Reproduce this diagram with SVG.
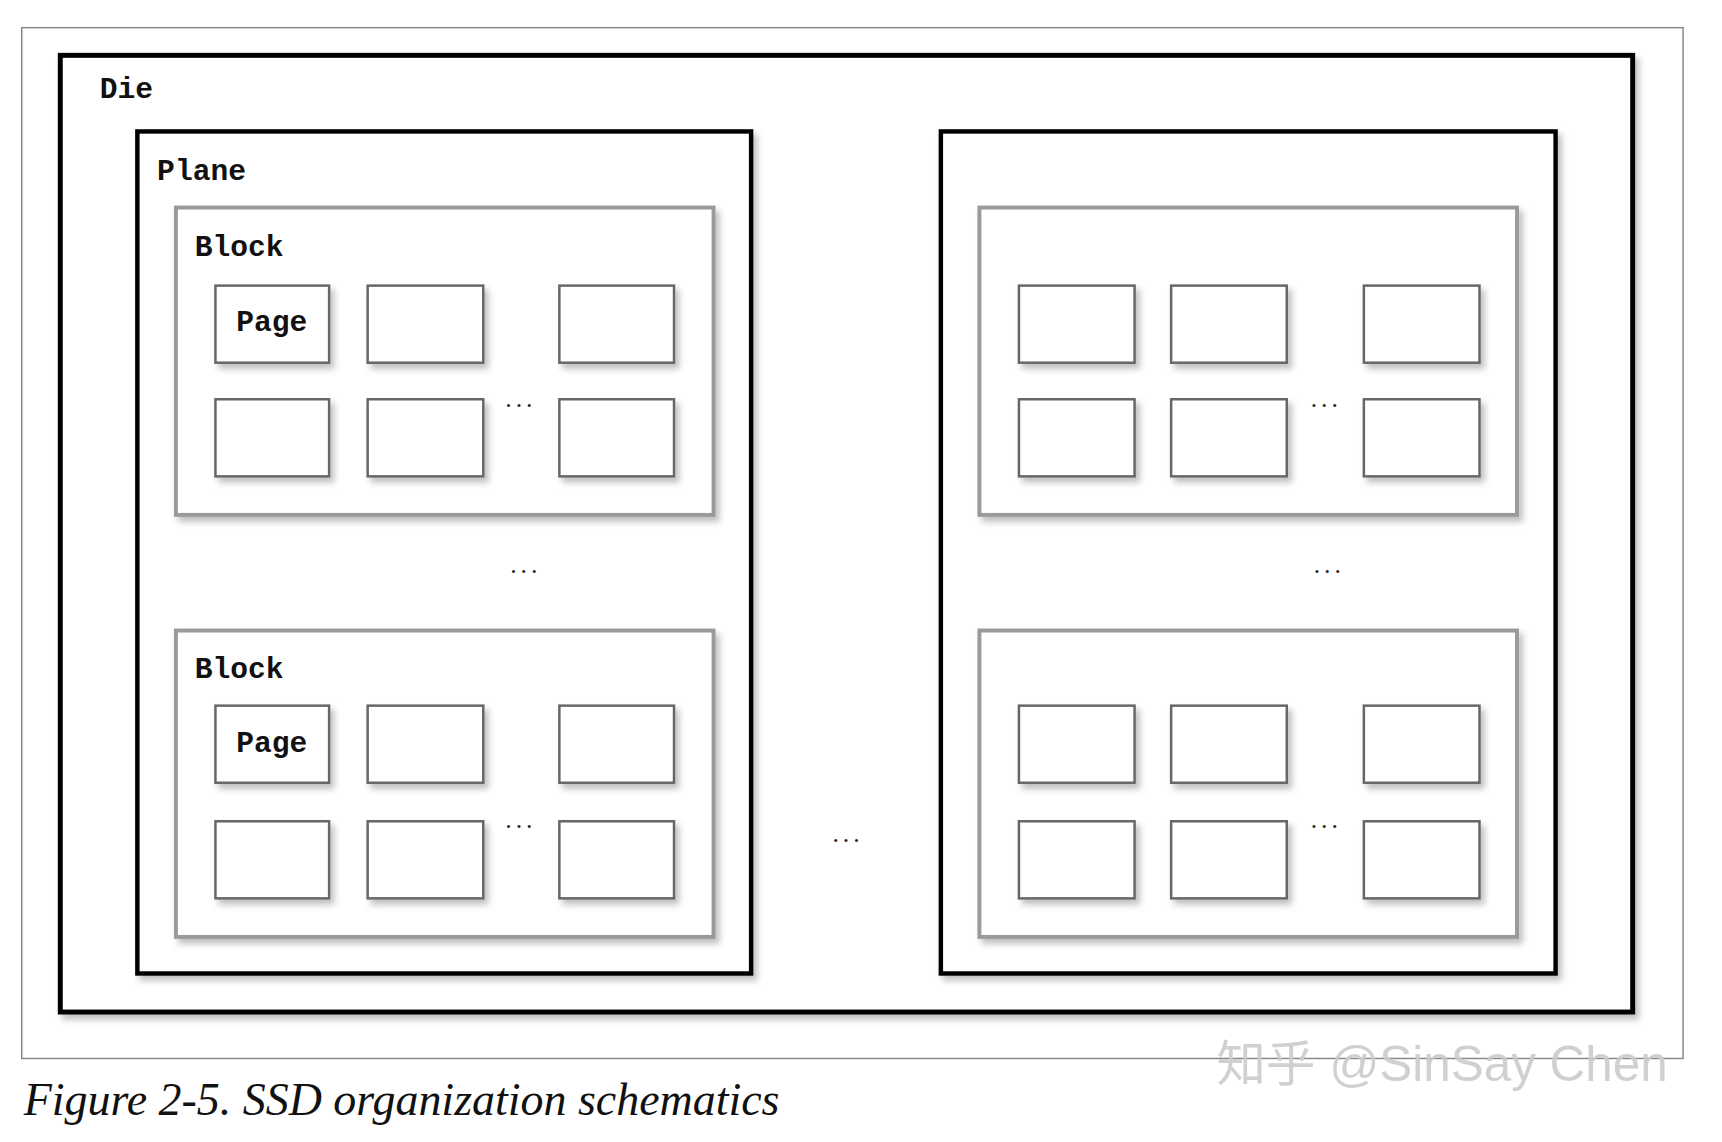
<svg xmlns="http://www.w3.org/2000/svg" width="1722" height="1142" viewBox="0 0 1722 1142">
<defs>
<filter id="sh" x="-10%" y="-10%" width="130%" height="130%"><feDropShadow dx="4" dy="5" stdDeviation="3" flood-color="#000" flood-opacity="0.25"/></filter>
</defs>
<style>
.die{fill:#fff;stroke:#000;stroke-width:5;filter:url(#sh)}
.plane{fill:#fff;stroke:#000;stroke-width:4.5;filter:url(#sh)}
.block{fill:#fff;stroke:#9a9a9a;stroke-width:4;filter:url(#sh)}
.page{fill:#fff;stroke:#666;stroke-width:2.5;filter:url(#sh)}
.lbl{font-family:"Liberation Mono",monospace;font-size:30px;font-weight:bold;fill:#111}
.dots{font-family:"Liberation Serif",serif;font-size:26px;fill:#222;text-anchor:middle;letter-spacing:4px}
</style>
<rect x="0" y="0" width="1722" height="1142" fill="#fff"/>
<g transform="scale(0.9883)">
<rect x="22" y="28" width="1681" height="1043" fill="#fff" stroke="#888" stroke-width="1.5"/>
<g id="die"><rect class="die" x="61" y="56" width="1591" height="968"/><text class="lbl" x="101" y="99">Die</text></g>
<g id="plane1"><rect class="plane" x="139" y="133" width="621" height="852"/><text class="lbl" x="159" y="182">Plane</text></g>
<g id="plane2"><rect class="plane" x="952" y="133" width="622" height="852"/></g>
<g id="block1"><rect class="block" x="178" y="210" width="544" height="311"/><text class="lbl" x="197" y="259">Block</text>
<rect class="page" x="218" y="289" width="115" height="78"/><text class="lbl" x="275" y="335" text-anchor="middle">Page</text>
<rect class="page" x="372" y="289" width="117" height="78"/><rect class="page" x="566" y="289" width="116" height="78"/>
<rect class="page" x="218" y="404" width="115" height="78"/><rect class="page" x="372" y="404" width="117" height="78"/><rect class="page" x="566" y="404" width="116" height="78"/>
<text class="dots" x="527" y="412">...</text></g>
<g id="block2"><rect class="block" x="178" y="638" width="544" height="310"/><text class="lbl" x="197" y="686">Block</text>
<rect class="page" x="218" y="714" width="115" height="78"/><text class="lbl" x="275" y="761" text-anchor="middle">Page</text>
<rect class="page" x="372" y="714" width="117" height="78"/><rect class="page" x="566" y="714" width="116" height="78"/>
<rect class="page" x="218" y="831" width="115" height="78"/><rect class="page" x="372" y="831" width="117" height="78"/><rect class="page" x="566" y="831" width="116" height="78"/>
<text class="dots" x="527" y="838">...</text></g>
<g id="block3"><rect class="block" x="991" y="210" width="544" height="311"/>
<rect class="page" x="1031" y="289" width="117" height="78"/><rect class="page" x="1185" y="289" width="117" height="78"/><rect class="page" x="1380" y="289" width="117" height="78"/>
<rect class="page" x="1031" y="404" width="117" height="78"/><rect class="page" x="1185" y="404" width="117" height="78"/><rect class="page" x="1380" y="404" width="117" height="78"/>
<text class="dots" x="1342" y="412">...</text></g>
<g id="block4"><rect class="block" x="991" y="638" width="544" height="310"/>
<rect class="page" x="1031" y="714" width="117" height="78"/><rect class="page" x="1185" y="714" width="117" height="78"/><rect class="page" x="1380" y="714" width="117" height="78"/>
<rect class="page" x="1031" y="831" width="117" height="78"/><rect class="page" x="1185" y="831" width="117" height="78"/><rect class="page" x="1380" y="831" width="117" height="78"/>
<text class="dots" x="1342" y="838">...</text></g>
<g id="connectors"></g>
<text class="dots" x="532" y="580">...</text>
<text class="dots" x="1345" y="580">...</text>
<text class="dots" x="858" y="852">...</text>
<text x="24" y="1128" font-family="Liberation Serif,serif" font-style="italic" font-size="46.5" fill="#111">Figure 2-5. SSD organization schematics</text>
<text x="1231" y="1094" font-family="Liberation Sans,Noto Sans CJK SC,sans-serif" font-size="50" fill="#ccc" opacity="0.9">知乎 @SinSay Chen</text>
</g>
</svg>
